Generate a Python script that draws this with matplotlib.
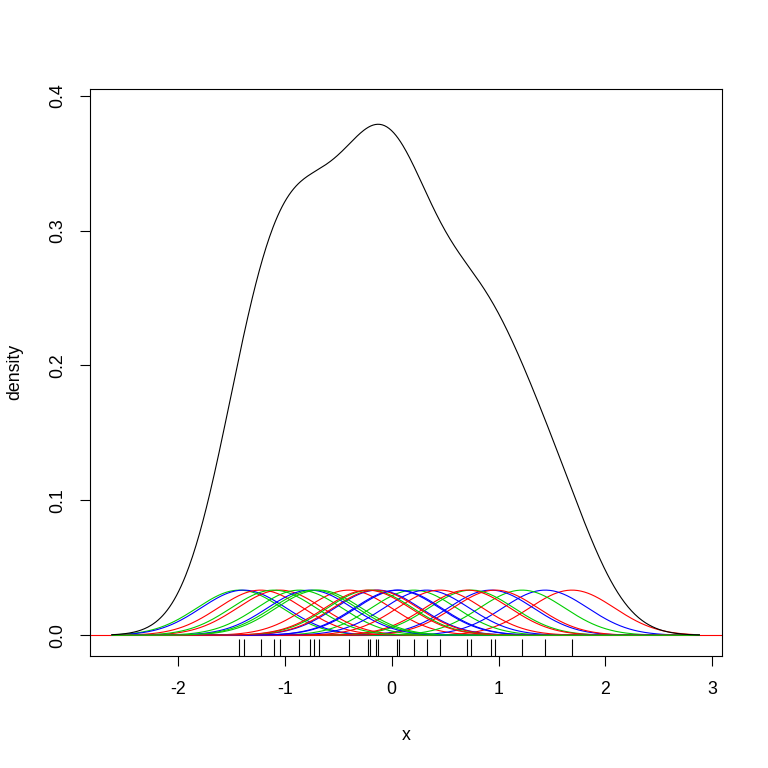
import numpy as np
import matplotlib
matplotlib.use("Agg")
import matplotlib.pyplot as plt
import matplotlib.transforms as mtransforms

# sample values (kept in drawing order, colours cycle red/green/blue)
x_obs = [1.687, -1.422, -1.384, -0.400, 0.209, 1.437, -1.044, 1.221, 0.928,
         0.971, -0.862, -0.131, -1.225, 0.746, 0.050, 0.709, -0.681, 0.328,
         -0.150, -1.103, -0.763, 0.453, -0.201, 0.068, -0.225, -0.722]
kernel_colors = ["red", "#00CD00", "blue"]
x_ticks = [-2, -1, 0, 1, 2, 3]
y_ticks = [0.0, 0.1, 0.2, 0.3, 0.4]
y_ticklabels = ["0.0", "0.1", "0.2", "0.3", "0.4"]

bw = 0.368          # bandwidth of the density estimate
kernel_sd = 0.397   # width of the single kernels as drawn
kernel_div = 30     # scale of the single kernels as drawn

plt.rcParams['font.family'] = ['Liberation Sans', 'DejaVu Sans']

x_obs = np.array(x_obs)
n = len(x_obs)

# gaussian kde on a grid, like R's density()
grid = np.linspace(x_obs.min() - 3 * kernel_sd, x_obs.max() + 3 * kernel_sd, 512)


def dnorm(x, mu, sd):
    return np.exp(-0.5 * ((x - mu) / sd) ** 2) / (sd * np.sqrt(2 * np.pi))


dens = np.zeros_like(grid)
for xi in x_obs:
    dens += dnorm(grid, xi, bw)
dens /= n

fig = plt.figure(figsize=(7.68, 7.68), dpi=100)
ax = fig.add_axes([90 / 768, 1 - 655.7 / 768, 632 / 768, 566.4 / 768])

ax.plot(grid, dens, color="black", lw=0.8, zorder=3)
ax.axhline(0, color="red", lw=0.8, zorder=1)

# one kernel per observation
for i, xi in enumerate(x_obs):
    ax.plot(grid, dnorm(grid, xi, kernel_sd) / kernel_div,
            color=kernel_colors[i % 3], lw=0.8, zorder=2)

# rug
trans = mtransforms.blended_transform_factory(ax.transData, ax.transAxes)
ax.vlines(x_obs, 0, 0.03, transform=trans, color="black", lw=0.8, zorder=4)

ax.set_xlim(-2.82, 3.09)
ax.set_ylim(-0.01512, 0.40474)

ax.set_xticks(x_ticks)
ax.set_xticklabels([str(t) for t in x_ticks])
ax.set_yticks(y_ticks)
ax.set_yticklabels(y_ticklabels, rotation=90, va="center")
ax.tick_params(axis="x", length=7.5, width=0.8, pad=10.5, labelsize=12.8)
ax.tick_params(axis="y", length=7.5, width=0.8, pad=9.5, labelsize=12.8)
for sp in ax.spines.values():
    sp.set_linewidth(0.8)

fig.text(406 / 768, 1 - 735 / 768, "x", ha="center", va="center", fontsize=12.8)
fig.text(15 / 768, 1 - 372 / 768, "density", ha="center", va="center",
         rotation=90, fontsize=12.8)

fig.savefig("out.png", dpi=100)
